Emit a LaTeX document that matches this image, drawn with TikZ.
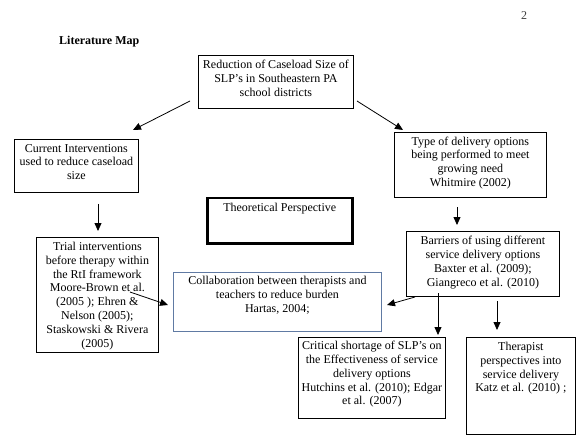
\documentclass[tikz,border=0pt]{standalone}
\usepackage{fontspec}
\setmainfont{Liberation Serif}
\usetikzlibrary{arrows.meta,calc}
\definecolor{collabblue}{RGB}{96,122,163}
\begin{document}
\begin{tikzpicture}[x=1pt,y=-1pt,
  box/.style={draw, line width=0.8pt, inner sep=0pt, anchor=north west},
  txt/.style={anchor=north, inner sep=0pt, align=center, font=\fontsize{12}{13.8}\selectfont},
  arr/.style={-{Triangle[length=8pt,width=7pt]}, line width=0.8pt}]
\useasboundingbox (0,0) rectangle (584,441);
\fill[white] (0,0) rectangle (584,441);

\node[anchor=center, inner sep=0pt, text=black!75, font=\fontsize{12}{13.8}\selectfont] (pagenum) at (524,16) {2};
\node[anchor=west, inner sep=0pt, font=\bfseries\fontsize{12}{13.8}\selectfont] (title) at (59,42) {Literature Map};

\node[box, minimum width=155pt, minimum height=53pt] (top) at (198,55) {};
\node[txt] (toptxt) at ($(top.north)+(0,5)$) {Reduction of Caseload Size of\\SLP’s in Southeastern PA\\school districts};

\node[box, minimum width=124pt, minimum height=53pt] (cur) at (14,139) {};
\node[txt] (curtxt) at ($(cur.north)+(0,5)$) {Current Interventions\\used to reduce caseload\\size};

\node[box, minimum width=152pt, minimum height=65pt] (type) at (394,132) {};
\node[txt] (typetxt) at ($(type.north)+(0,4.5)$) {Type of delivery options\\being performed to meet\\growing need\\Whitmire (2002)};

\node[box, line width=2.5pt, minimum width=145pt, minimum height=45pt] (theo) at (206,197) {};
\node[txt] (theotxt) at ($(theo.north)+(0,6)$) {Theoretical Perspective};

\node[box, minimum width=122pt, minimum height=115pt] (trial) at (36,237) {};
\node[txt] (trialtxt) at ($(trial.north)+(0,5)$) {Trial interventions\\before therapy within\\the RtI framework\\Moore-Brown et al.\\(2005 ); Ehren \&\\Nelson (2005);\\Staskowski \& Rivera\\(2005)};

\node[box, minimum width=153pt, minimum height=65pt] (barr) at (406,231) {};
\node[txt] (barrtxt) at ($(barr.north)+(0,5)$) {Barriers of using different\\service delivery options\\Baxter et al. (2009);\\Giangreco et al. (2010)};

\node[box, draw=collabblue, minimum width=208pt, minimum height=59pt] (collab) at (173,272) {};
\node[txt] (collabtxt) at ($(collab.north)+(0,4)$) {Collaboration between therapists and\\teachers to reduce burden\\Hartas, 2004;};

\node[box, minimum width=147pt, minimum height=81pt] (crit) at (298,337) {};
\node[txt] (crittxt) at ($(crit.north)+(0,4)$) {Critical shortage of SLP’s on\\the Effectiveness of service\\delivery options\\Hutchins et al. (2010); Edgar\\et al. (2007)};

\node[box, minimum width=109pt, minimum height=97pt] (ther) at (466,337) {};
\node[txt] (thertxt) at ($(ther.north)+(0,5)$) {Therapist\\perspectives into\\service delivery\\Katz et al. (2010) ;};

% connector end points
\coordinate (a1s) at (190,101);
\coordinate (a1e) at (133,130);
\coordinate (a2s) at (357,101);
\coordinate (a2e) at (403,130);
\coordinate (a3s) at (98,204);
\coordinate (a3e) at (98,231);
\coordinate (a4s) at (457,207);
\coordinate (a4e) at (457,225);
\coordinate (a5s) at (130,292);
\coordinate (a5e) at (168,305);
\coordinate (a6s) at (415,297);
\coordinate (a6e) at (387,305);
\coordinate (a7s) at (438,293);
\coordinate (a7e) at (438,335);
\coordinate (a8s) at (497,301);
\coordinate (a8e) at (497,330);

\draw[arr] (a1s) -- (a1e);
\draw[arr] (a2s) -- (a2e);
\draw[arr] (a3s) -- (a3e);
\draw[arr] (a4s) -- (a4e);
\draw[arr] (a5s) -- (a5e);
\draw[arr] (a6s) -- (a6e);
\draw[arr] (a7s) -- (a7e);
\draw[arr] (a8s) -- (a8e);
\end{tikzpicture}
\end{document}
